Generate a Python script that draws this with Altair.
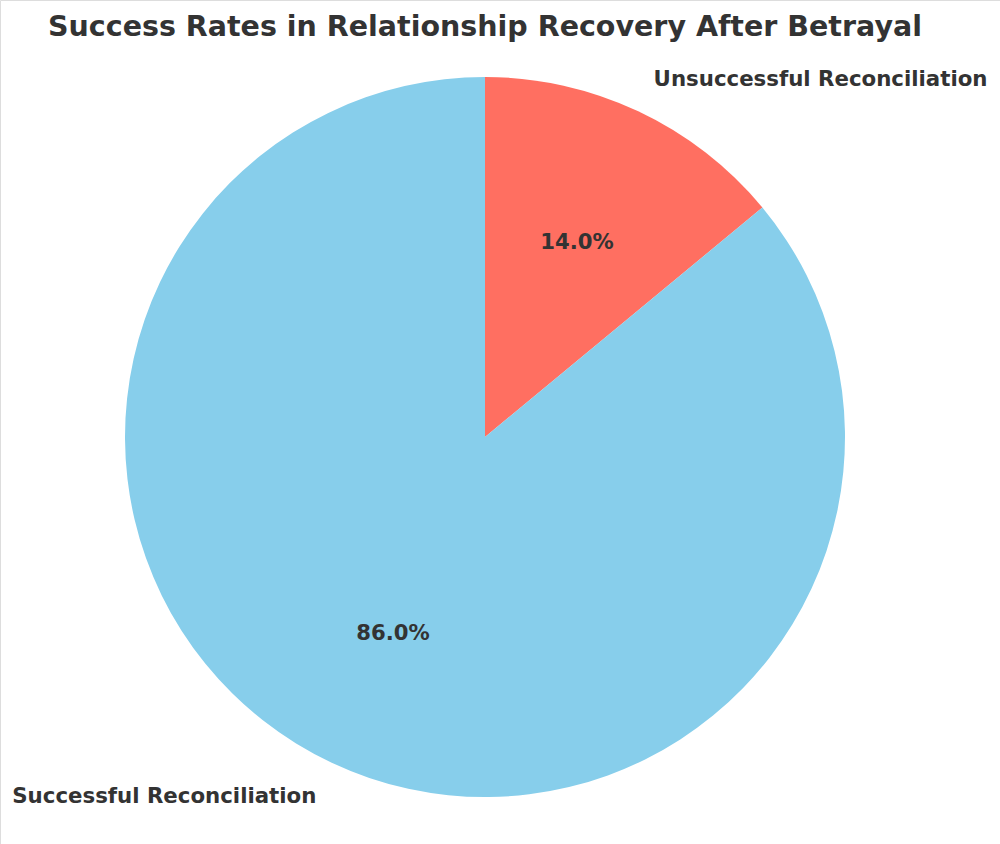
import altair as alt
import pandas as pd

categories = ["Unsuccessful Reconciliation", "Successful Reconciliation"]
values = [14.0, 86.0]
colors = ["#FF6F61", "#87CEEB"]
title_text = "Success Rates in Relationship Recovery After Betrayal"

df = pd.DataFrame({
    "label": categories,
    "value": values,
    "order": list(range(len(categories))),
})
df["pct"] = [f"{v:.1f}%" for v in values]

CX, CY, R = 485, 437, 360
FONT = "DejaVu Sans"

base = alt.Chart(df).encode(
    theta=alt.Theta("value:Q", stack=True),
    order=alt.Order("order:Q"),
    x=alt.value(CX),
    y=alt.value(CY),
)

arcs = base.mark_arc().encode(
    radius=alt.value(R),
    color=alt.Color("label:N", scale=alt.Scale(domain=categories, range=colors), legend=None),
)

pct = base.mark_text(font=FONT, fontSize=21.2, fontWeight="bold", color="#333333",
                     align="center", baseline="middle", dy=1.5).encode(
    radius=alt.value(R * 0.6),
    text="pct:N",
)

lab_right = base.mark_text(font=FONT, fontSize=21.3, fontWeight="bold", color="#333333",
                           align="left", baseline="middle", dy=1.5).encode(
    radius=alt.value(R * 1.1),
    text=alt.condition(alt.datum.label == categories[0], alt.Text("label:N"), alt.value("")),
)

lab_left = base.mark_text(font=FONT, fontSize=21.3, fontWeight="bold", color="#333333",
                          align="right", baseline="middle", dy=1.5).encode(
    radius=alt.value(R * 1.1),
    text=alt.condition(alt.datum.label == categories[1], alt.Text("label:N"), alt.value("")),
)

title = alt.Chart(pd.DataFrame({"t": [title_text]})).mark_text(
    font=FONT, fontSize=28.5, fontWeight="bold", color="#333333",
    align="center", baseline="middle",
).encode(x=alt.value(CX), y=alt.value(26.5), text="t:N")

chart = alt.layer(arcs, pct, lab_right, lab_left, title).properties(
    width=1000, height=844,
    autosize=alt.AutoSizeParams(type="none"),
    padding=0,
).configure_view(stroke=None, strokeWidth=0).configure(background="white")

chart.save("out.html", embed_options={"renderer": "svg", "actions": False})
